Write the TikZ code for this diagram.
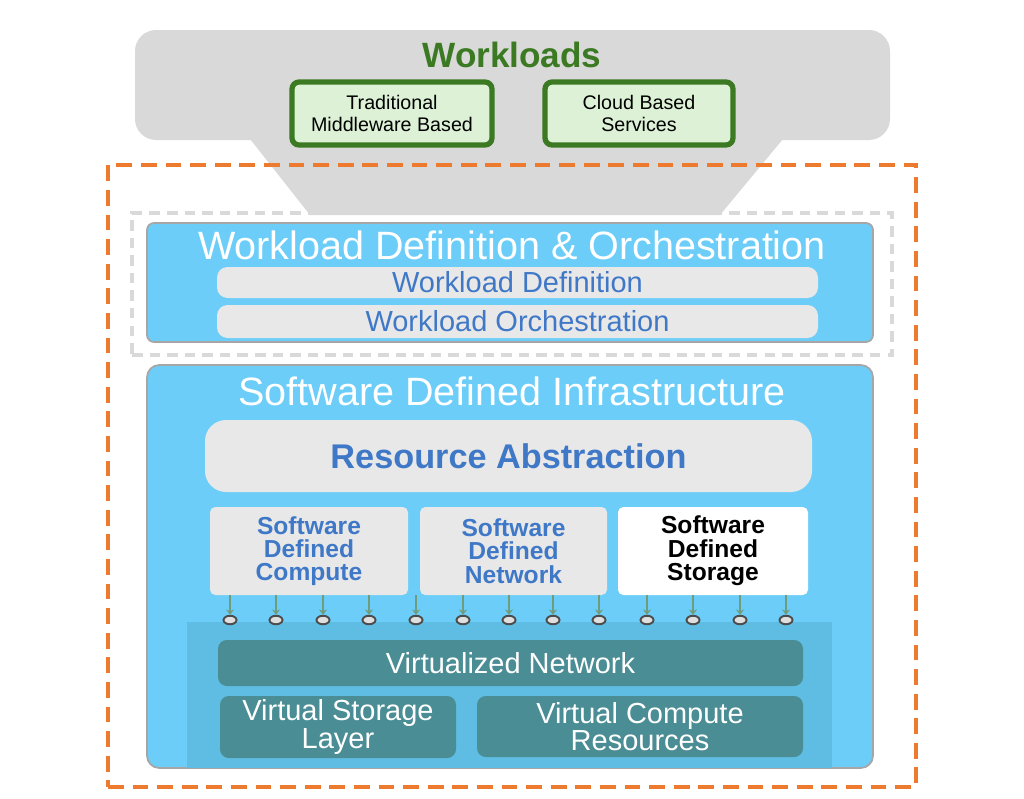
\documentclass[tikz,border=0pt]{standalone}
\usepackage{fontspec}
\setmainfont{Liberation Sans}
\usetikzlibrary{fit,shapes.geometric,arrows.meta}
\definecolor{orng}{HTML}{EC7A2F}
\definecolor{lgray}{HTML}{D9D9D9}
\definecolor{boxgray}{HTML}{E8E8E8}
\definecolor{skyb}{HTML}{6BCDF8}
\definecolor{skyd}{HTML}{5FBCE2}
\definecolor{teal}{HTML}{4A8D95}
\definecolor{dgreen}{HTML}{3B7A22}
\definecolor{lgreen}{HTML}{DDF1D6}
\definecolor{txtblue}{HTML}{3F78C7}
\definecolor{arrg}{HTML}{6E9C7C}
\tikzset{
  x=0.02cm,y=-0.02cm,
  bx/.style={inner sep=0pt,align=center},
  bluebox/.style={bx,fill=skyb,draw=gray!70,line width=1pt,rounded corners=4pt},
  graybox/.style={bx,fill=boxgray,rounded corners=6pt,text=txtblue},
  tealbox/.style={bx,fill=teal,rounded corners=5pt},
  tealtxt/.style={text=white,align=center,font=\fontsize{16.5}{15.5}\selectfont},
  wbox/.style={bx,fill=lgreen,draw=dgreen,line width=3pt,rounded corners=4pt},
  wtxt/.style={align=center,font=\fontsize{11.2}{12.5}\selectfont},
  sdbox/.style={bx,rounded corners=3pt},
  sdtxt/.style={align=center,font=\bfseries\fontsize{14}{13.3}\selectfont},
  bigtxt/.style={text=white,font=\fontsize{22.5}{24}\selectfont},
  midtxt/.style={text=txtblue,font=\fontsize{16.5}{17}\selectfont},
  conn/.style={draw=gray!60!black,fill=gray!25,line width=1.1pt,ellipse,minimum width=0.26cm,minimum height=0.17cm,inner sep=0pt},
  arr/.style={arrg,line width=1.5pt,-{Stealth[length=3pt,width=4.5pt]}}
}
\begin{document}
\begin{tikzpicture}
\useasboundingbox (0,0) rectangle (1024,798);
% gray funnel
\fill[lgray,rounded corners=12pt] (135,30) rectangle (890,140);
\fill[lgray] (250,139) -- (783,139) -- (720,215) -- (310,215) -- cycle;
\node[font=\bfseries\fontsize{20}{22}\selectfont,text=dgreen] (wl) at (512,55) {Workloads};
\node[wbox,fit={(292,82)(492,145)}] (trad) {};
\node[wtxt] at (trad.center) {Traditional\\Middleware Based};
\node[wbox,fit={(545,82)(733,145)}] (cloud) {};
\node[wtxt] at (cloud.center) {Cloud Based\\Services};
% orange dashed
\node[draw=orng,line width=2.4pt,dash pattern=on 9pt off 5pt,fit={(108,165)(916,787)},inner sep=0pt] (outer) {};
% gray dashed
\node[draw=lgray,line width=2pt,dash pattern=on 6pt off 4pt,fit={(132,213)(892,355)},inner sep=0pt] (gdash) {};
% WDO
\node[bluebox,fit={(147,223)(873,342)}] (wdo) {};
\node[bigtxt] (wdot) at (512,245) {Workload Definition \& Orchestration};
\node[graybox,fit={(217,267)(818,298)}] (wd) {};
\node[midtxt] at (wd.center) {Workload Definition};
\node[graybox,fit={(217,305)(818,338)}] (wo) {};
\node[midtxt] at (wo.center) {Workload Orchestration};
% SDI
\node[bluebox,rounded corners=7pt,fit={(147,365)(873,768)}] (sdi) {};
\node[bigtxt] (sdit) at (512,391) {Software Defined Infrastructure};
\node[graybox,rounded corners=12pt,fit={(205,420)(812,492)}] (ra) {};
\node[text=txtblue,font=\bfseries\fontsize{19.5}{20}\selectfont] at (ra.center) {Resource Abstraction};
\node[sdbox,fill=boxgray,fit={(210,507)(408,595)}] (sdc) {};
\node[sdtxt,text=txtblue] at (sdc.center) {Software\\Defined\\Compute};
\node[sdbox,fill=boxgray,fit={(420,507)(607,595)}] (sdn) {};
\node[sdtxt,text=txtblue] at (sdn.center) {Software\\Defined\\Network};
\node[sdbox,fill=white,fit={(618,507)(808,595)}] (sds) {};
\node[sdtxt] at (sds.center) {Software\\Defined\\Storage};
% lower region
\node[bx,fill=skyd,fit={(187,622)(832,768)}] (low) {};
\node[tealbox,fit={(218,640)(803,686)}] (vn) {};
\node[tealtxt] at (vn.center) {Virtualized Network};
\node[tealbox,fit={(220,696)(456,758)}] (vsl) {};
\node[tealtxt] at (vsl.center) {Virtual Storage\\Layer};
\node[tealbox,fit={(477,696)(803,757)}] (vcr) {};
\node[tealtxt] at (vcr.center) {Virtual Compute\\Resources};
% connectors
\foreach \i/\x/\s in {1/230/sdc,2/276/sdc,3/323/sdc,4/369/sdc,5/416/sdc,6/463/sdn,7/509/sdn,8/553/sdn,9/599/sdn,10/647/sds,11/693/sds,12/740/sds,13/786/sds}{
  \node[conn] (e\i) at (\x,620) {};
  \draw[arr] (e\i |- \s.south) -- (e\i.north);
}
\end{tikzpicture}
\end{document}
